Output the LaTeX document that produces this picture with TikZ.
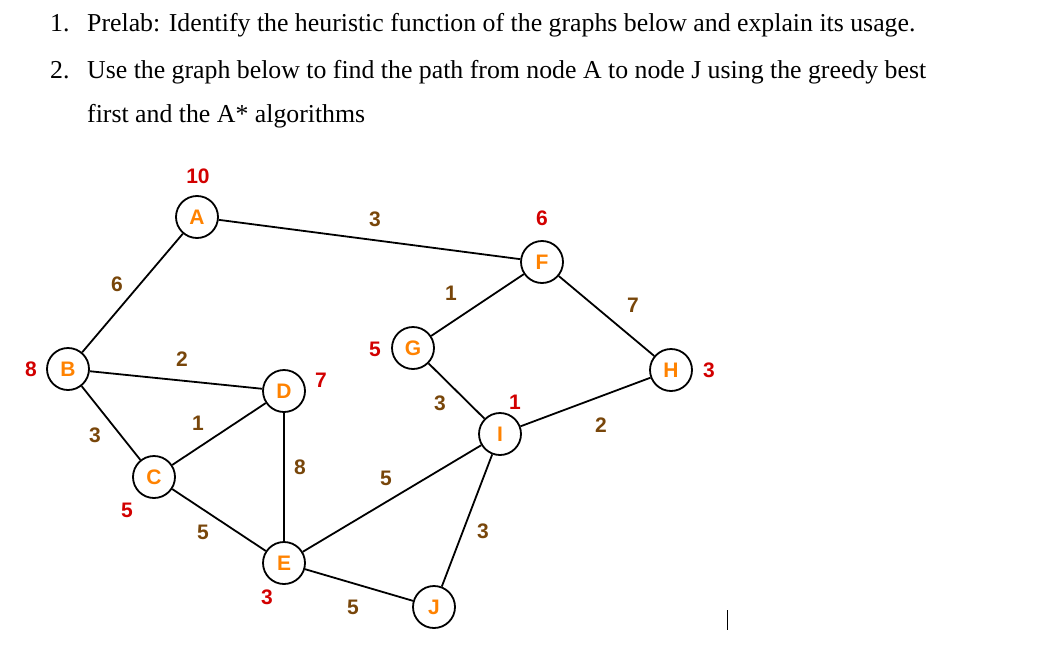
\documentclass[tikz,border=0pt]{standalone}
\usepackage{fontspec}
\setmainfont{Liberation Serif}
\newfontfamily\arial{Liberation Sans}
\definecolor{nodeor}{RGB}{255,130,0}
\definecolor{hred}{RGB}{210,0,0}
\definecolor{wbrown}{RGB}{120,70,10}
\begin{document}
\begin{tikzpicture}[x=1pt,y=-1pt,
  vtx/.style={circle,draw,line width=1.8pt,minimum size=42pt,inner sep=0pt,font=\arial\bfseries\fontsize{21}{21}\selectfont,text=nodeor},
  hlab/.style={font=\arial\bfseries\fontsize{21}{21}\selectfont,text=hred,inner sep=0pt},
  wlab/.style={font=\arial\bfseries\fontsize{21}{21}\selectfont,text=wbrown,inner sep=0pt},
  edge/.style={line width=1.8pt},
  para/.style={anchor=base west,inner sep=0pt,font=\fontsize{25.8}{30}\selectfont}]
\useasboundingbox (0,0) rectangle (1048,669);
\node[para] (n1) at (50,32) {1.};
\node[para] (t1) at (87,32) {Prelab: Identify the heuristic function of the graphs below and explain its usage.};
\node[para] (n2) at (50,78) {2.};
\node[para] (t2) at (87,78) {Use the graph below to find the path from node A to node J using the greedy best};
\node[para] (t3) at (87,122) {first and the A* algorithms};
\node[vtx] (A) at (197,217) {A};
\node[vtx] (F) at (542,262) {F};
\node[vtx] (B) at (68,369) {B};
\node[vtx] (G) at (413,348) {G};
\node[vtx] (D) at (284,391) {D};
\node[vtx] (H) at (671,370) {H};
\node[vtx] (I) at (500,434) {I};
\node[vtx] (C) at (154,477) {C};
\node[vtx] (E) at (284,563) {E};
\node[vtx] (J) at (434,607) {J};
\draw[edge] (A)--(F) (A)--(B) (F)--(G) (F)--(H) (B)--(D) (B)--(C) (C)--(D) (D)--(E) (G)--(I) (E)--(I) (I)--(H) (C)--(E) (I)--(J) (E)--(J);
\node[hlab] (hA) at (198,176) {10};
\node[hlab] (hF) at (542,218) {6};
\node[hlab] (hB) at (31,369) {8};
\node[hlab] (hG) at (375,349) {5};
\node[hlab] (hD) at (321,380) {7};
\node[hlab] (hH) at (709,370) {3};
\node[hlab] (hI) at (515,402) {1};
\node[hlab] (hC) at (127,510) {5};
\node[hlab] (hE) at (267,597) {3};
\node[wlab] (w1) at (375,219) {3};
\node[wlab] (w2) at (117,284) {6};
\node[wlab] (w3) at (451,293) {1};
\node[wlab] (w4) at (633,305) {7};
\node[wlab] (w5) at (182,359) {2};
\node[wlab] (w6) at (95,435) {3};
\node[wlab] (w7) at (198,423) {1};
\node[wlab] (w8) at (300,467) {8};
\node[wlab] (w9) at (386,478) {5};
\node[wlab] (w10) at (440,403) {3};
\node[wlab] (w11) at (601,425) {2};
\node[wlab] (w12) at (203,532) {5};
\node[wlab] (w13) at (483,531) {3};
\node[wlab] (w14) at (353,607) {5};
\coordinate (c1) at (727,610);
\coordinate (c2) at (727,630);
\draw[line width=0.8pt] (c1)--(c2);
\end{tikzpicture}
\end{document}
